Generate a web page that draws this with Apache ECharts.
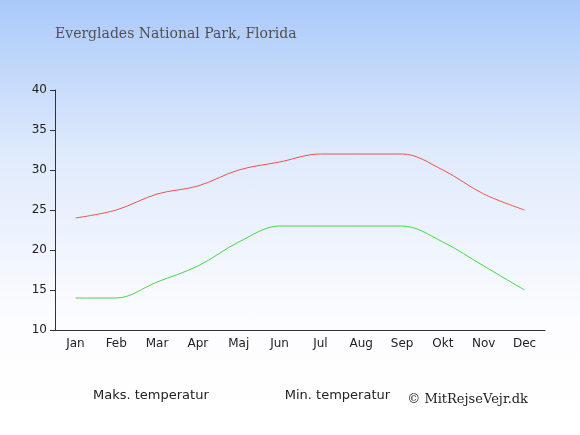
<!doctype html>
<html>
<head>
<meta charset="utf-8">
<script src="https://cdn.jsdelivr.net/npm/echarts@6/dist/echarts.min.js"></script>
<style>
  html, body { margin:0; padding:0; }
  #chart { width:580px; height:435px; background:linear-gradient(#a9c9fa 0%, #dfeafc 35%, #fdfdff 75%, #fff 100%); }
</style>
</head>
<body>
<div id="chart"></div>
<script>
const months = ['Jan','Feb','Mar','Apr','Maj','Jun','Jul','Aug','Sep','Okt','Nov','Dec'];
const maxTemp = [24, 25, 27, 28, 30, 31, 32, 32, 32, 30, 27, 25];
const minTemp = [14, 14, 16, 18, 21, 23, 23, 23, 23, 21, 18, 15];

const label = { show: true, position: 'top', color: '#1e2f50', fontSize: 13, fontFamily: 'DejaVu Sans', distance: 5 };

echarts.init(document.getElementById('chart')).setOption({
  backgroundColor: 'transparent',
  title: {
    text: 'Everglades National Park, Florida', left: 50, top: 22,
    textStyle: { fontFamily: 'DejaVu Serif', fontSize: 14, fontWeight: 'normal', color: '#505050' }
  },
  legend: {
    bottom: 28, left: 72, itemGap: 60, itemWidth: 11, itemHeight: 11, icon: 'rect',
    textStyle: { fontFamily: 'DejaVu Sans', fontSize: 13, color: '#222' },
    data: ['Maks. temperatur', 'Min. temperatur']
  },
  graphic: [{
    type: 'text', right: 52, bottom: 29,
    style: { text: '© MitRejseVejr.dk', font: '13px "DejaVu Serif"', fill: '#222' }
  }],
  grid: { left: 55, right: 35, top: 90, bottom: 105 },
  xAxis: {
    type: 'category', data: months, boundaryGap: true,
    axisLine: { lineStyle: { color: '#333' } },
    axisTick: { alignWithLabel: true, lineStyle: { color: '#333' } },
    axisLabel: { color: '#222', fontSize: 12, fontFamily: 'DejaVu Sans' }
  },
  yAxis: {
    type: 'value', min: 10, max: 40, interval: 5,
    axisLine: { show: true, lineStyle: { color: '#333' } },
    axisTick: { show: true, lineStyle: { color: '#333' } },
    splitLine: { show: false },
    axisLabel: { color: '#222', fontSize: 12, fontFamily: 'DejaVu Sans' }
  },
  series: [
    { name: 'Maks. temperatur', type: 'line', smooth: 0.35, data: maxTemp, symbol: 'circle', symbolSize: 1,
      itemStyle: { color: '#f04848', opacity: 0 }, color: '#f04848',
      lineStyle: { width: 1, color: '#f05050' }, label },
    { name: 'Min. temperatur', type: 'line', smooth: 0.35, data: minTemp, symbol: 'circle', symbolSize: 1,
      itemStyle: { color: '#33dd33', opacity: 0 }, color: '#33dd33',
      lineStyle: { width: 1, color: '#44d844' }, label }
  ]
});
</script>
</body>
</html>
